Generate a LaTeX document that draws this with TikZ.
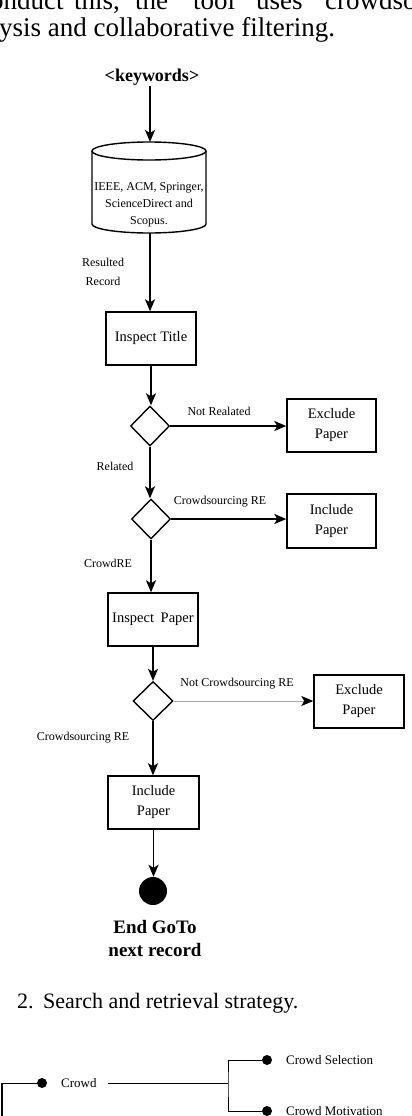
\documentclass[tikz,border=0pt]{standalone}
\usepackage{fontspec}
\setmainfont{Liberation Serif}
\usetikzlibrary{arrows.meta,shapes.geometric}
\begin{document}
\begin{tikzpicture}[x=1pt,y=-1pt,
  box/.style={draw, line width=1.4pt, minimum width=90pt, minimum height=53pt, inner sep=0pt, align=center, font=\fontsize{14.5}{20}\selectfont},
  dia/.style={draw, diamond, line width=1.4pt, minimum width=39pt, minimum height=40pt, inner sep=0pt},
  lab/.style={font=\fontsize{12}{19}\selectfont, inner sep=0pt, align=center},
  arr/.style={line width=1.5pt, -{Stealth[length=12pt,width=10pt,inset=3pt]}},
  grayarr/.style={line width=0.8pt, draw=black!35, -{Stealth[length=12pt,width=10pt,inset=3pt,color=black]}},
  para/.style={font=\fontsize{27}{27}\selectfont, inner sep=0pt, anchor=base west},
  captxt/.style={font=\fontsize{22}{22}\selectfont, inner sep=0pt, anchor=base west},
  dot/.style={circle, fill=black, minimum size=10pt, inner sep=0pt},
  btxt/.style={font=\fontsize{13}{13}\selectfont, inner sep=0pt, anchor=west},
  thinline/.style={line width=0.9pt}
]
\useasboundingbox (0,0) rectangle (412,1116);
\clip (0,0) rectangle (412,1116);
\fill[white] (0,0) rectangle (412,1116);

% paragraph text at the top
\node[para] (w1) at (-10,10) {onduct};
\node[para] (w2) at (74,10) {this,};
\node[para] (w3) at (135,10) {the};
\node[para] (w4) at (193,10) {tool};
\node[para] (w5) at (256,10) {uses};
\node[para] (w6) at (325,10) {crowdsou};
\node[para] (l2) at (-1,37) {ysis and collaborative filtering.};

% keywords and database cylinder
\node[font=\bfseries\fontsize{18}{18}\selectfont, inner sep=1pt] (kw) at (152,77) {\textless keywords\textgreater};
\coordinate (cyltop) at (150,142);
\coordinate (cylbot) at (150,233);
\draw[line width=1.4pt] (149,151) ellipse [x radius=57, y radius=9];
\draw[line width=1.4pt] (92,151) -- (92,224) arc[start angle=180, end angle=0, x radius=57, y radius=9] -- (206,151);
\node[font=\fontsize{12}{17}\selectfont, align=center, inner sep=0pt] (db) at (149,205) {IEEE, ACM, Springer,\\ScienceDirect and\\Scopus.};

% flow nodes
\node[box] (t1) at (151,338.5) {Inspect Title};
\node[dia] (d1) at (150,426) {};
\node[box, minimum width=89pt] (ex1) at (331.5,425.5) {Exclude\\Paper};
\node[dia] (d2) at (151,519) {};
\node[box, minimum width=89pt, minimum height=54pt] (in1) at (331.5,521) {Include\\Paper};
\node[box] (t2) at (153,619.5) {Inspect \hspace{3pt}Paper};
\node[dia, minimum width=40pt, minimum height=39pt] (d3) at (153,701) {};
\node[box] (ex2) at (359,701.5) {Exclude\\Paper};
\node[box, minimum width=91pt] (in2) at (153.5,802.5) {Include\\Paper};
\node[circle, fill=black, minimum size=28pt, inner sep=0pt] (end) at (153,891) {};
\node[font=\bfseries\fontsize{19}{23}\selectfont, align=center, inner sep=0pt] (endtxt) at (155,938.5) {End GoTo\\next record};

% connectors
\draw[arr] (cyltop |- kw.south) -- (cyltop);
\draw[arr] (cylbot) -- (cylbot |- t1.north);
\draw[arr] (t1.south) -- (t1.south |- d1.north);
\draw[arr] (d1.south) -- (d1.south |- d2.north);
\draw[arr] (d2.south) -- (d2.south |- t2.north);
\draw[arr] (t2.south) -- (t2.south |- d3.north);
\draw[arr] (d3.south) -- (d3.south |- in2.north);
\draw[arr] (in2.south) -- (in2.south |- end.north);
\draw[arr] (d1.east) -- (d1.east -| ex1.west);
\draw[arr] (d2.east) -- (d2.east -| in1.west);
\draw[grayarr] (d3.east) -- (d3.east -| ex2.west);

% labels
\node[lab] (lres) at (103,271.5) {Resulted\\Record};
\node[lab] (lnr) at (219,411) {Not Realated};
\node[lab] (lrel) at (115,466) {Related};
\node[lab] (lcs1) at (220,502) {Crowdsourcing RE};
\node[lab] (lcre) at (108,563) {CrowdRE};
\node[lab] (lncs) at (237,684) {Not Crowdsourcing RE};
\node[lab] (lcs2) at (83,738) {Crowdsourcing RE};

% caption
\node[captxt] (capn) at (17,1008) {2.};
\node[captxt] (capt) at (43,1008) {Search and retrieval strategy.};

% partial next diagram
\coordinate (lb) at (2,1116);
\coordinate (lt) at (2,1083);
\node[dot] (cdot) at (42,1083) {};
\node[btxt] (ctxt) at (61,1083) {Crowd};
\coordinate (cl) at (108,1083);
\coordinate (br) at (228,1083);
\node[dot] (sdot) at (267,1060) {};
\node[btxt] (stxt) at (286,1060) {Crowd Selection};
\node[dot] (mdot) at (267,1111) {};
\node[btxt] (mtxt) at (286,1111) {Crowd Motivation};
\draw[line width=2pt] (lb) -- (lt);
\draw[thinline] (lt) -- (cdot);
\draw[thinline] (cl) -- (br);
\draw[thinline] (sdot) -| (br) |- (mdot);
\end{tikzpicture}
\end{document}
